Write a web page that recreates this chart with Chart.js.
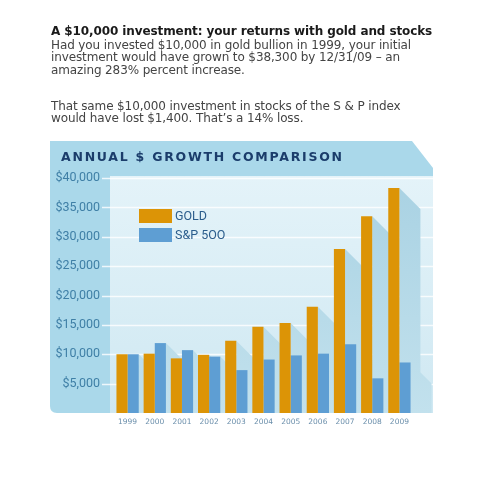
<!DOCTYPE html>
<html>
<head>
<meta charset="utf-8">
<script src="https://cdn.jsdelivr.net/npm/chart.js@4/dist/chart.umd.min.js"></script>
<style>
  html, body { margin: 0; padding: 0; background: #fff; }
  #wrap { position: relative; width: 480px; height: 480px; overflow: hidden; }
  #chart { position: absolute; left: 0; top: 0; }
  .txt { position: absolute; left: 51px; white-space: nowrap; font-family: "DejaVu Sans", sans-serif; }
  .lead { font-size: 12px; font-weight: bold; color: #1a1a1a; letter-spacing: -0.1px; line-height: 13px; }
  .body { font-size: 12px; color: #444; letter-spacing: -0.12px; line-height: 12.5px; }
  #ctitle { position: absolute; left: 61px; top: 149px; font-family: "DejaVu Sans", sans-serif; font-weight: bold;
            font-size: 12.5px; letter-spacing: 1.75px; color: #1b3d6b; white-space: nowrap; }
</style>
</head>
<body>
<div id="wrap">
  <canvas id="chart" width="480" height="480"></canvas>
  <div class="txt lead" style="top:25px">A $10,000 investment: your returns with gold and stocks</div>
  <div class="txt body" style="top:38.5px">Had you invested $10,000 in gold bullion in 1999, your initial<br>investment would have grown to $38,300 by 12/31/09 – an<br>amazing 283% percent increase.</div>
  <div class="txt body" style="top:99.5px">That same $10,000 investment in stocks of the S &amp; P index<br>would have lost $1,400. That’s a 14% loss.</div>
  <div id="ctitle">ANNUAL $ GROWTH COMPARISON</div>
</div>
<script>
const years = ["1999", "2000", "2001", "2002", "2003", "2004", "2005", "2006", "2007", "2008", "2009"];
const goldValues = [10000, 10100, 9300, 9900, 12300, 14700, 15300, 18100, 27900, 33500, 38300];
const spValues = [10000, 11900, 10700, 9600, 7300, 9100, 9800, 10100, 11700, 5900, 8600];
const seriesNames = ["GOLD", "S&P 5OO"];
const yTickValues = [5000, 10000, 15000, 20000, 25000, 30000, 35000, 40000];
const yTickLabels = ["$5,000", "$10,000", "$15,000", "$20,000", "$25,000", "$30,000", "$35,000", "$40,000"];

const narrow = "Roboto, 'Liberation Sans', sans-serif";

// panel behind the chart: dark band + lighter plot box + grid lines
const panelPlugin = {
  id: "panel",
  beforeDraw(chart) {
    const { ctx, chartArea: ca, scales } = chart;
    const panelL = ca.left - 64, panelT = ca.top - 37;
    const plotL = ca.left - 4, plotR = ca.right + 20, bandB = ca.top - 2, plotB = ca.bottom;
    ctx.save();
    ctx.beginPath();
    ctx.moveTo(panelL, panelT);
    ctx.lineTo(plotR - 21, panelT);
    ctx.lineTo(plotR, panelT + 27);
    ctx.lineTo(plotR, plotB);
    ctx.lineTo(panelL + 7, plotB);
    ctx.quadraticCurveTo(panelL, plotB, panelL, plotB - 7);
    ctx.closePath();
    ctx.fillStyle = "#aad8ea";
    ctx.fill();

    const g = ctx.createLinearGradient(0, bandB, 0, plotB);
    g.addColorStop(0, "#e4f3f9");
    g.addColorStop(1, "#cfe8f2");
    ctx.fillStyle = g;
    ctx.fillRect(plotL, bandB, plotR - plotL, plotB - bandB);

    ctx.strokeStyle = "rgba(255,255,255,0.8)";
    ctx.lineWidth = 1.5;
    yTickValues.forEach(v => {
      const y = Math.round(scales.y.getPixelForValue(v)) + 0.5;
      ctx.beginPath();
      ctx.moveTo(ca.left - 12, y);
      ctx.lineTo(plotR, y);
      ctx.stroke();
    });
    ctx.restore();
  },
  beforeDatasetsDraw(chart) {
    // diagonal drop shadows behind each bar
    const { ctx, chartArea: ca } = chart;
    const d = 21;
    ctx.save();
    ctx.beginPath();
    chart.data.datasets.forEach((ds, i) => {
      chart.getDatasetMeta(i).data.forEach(bar => {
        const { x, y, base, width } = bar.getProps(["x", "y", "base", "width"], true);
        const xr = x + width / 2;
        ctx.moveTo(xr, y);
        ctx.lineTo(xr + d, y + d);
        ctx.lineTo(xr + d, base);
        ctx.lineTo(xr, base);
        ctx.closePath();
      });
    });
    const g = ctx.createLinearGradient(0, ca.top, 0, ca.bottom);
    g.addColorStop(0, "#a9d2e3");
    g.addColorStop(1, "#c2e1ed");
    ctx.fillStyle = g;
    ctx.fill("nonzero");
    ctx.restore();
  },
  afterDatasetsDraw(chart) {
    // legend inside the plot, top-left
    const { ctx, chartArea: ca } = chart;
    ctx.save();
    chart.data.datasets.forEach((ds, i) => {
      const bx = ca.left + 25, by = ca.top + 31 + i * 19;
      ctx.fillStyle = ds.backgroundColor;
      ctx.fillRect(bx, by, 33, 14);
      ctx.fillStyle = "#2b5d8c";
      ctx.font = "12.5px " + narrow;
      ctx.textBaseline = "middle";
      ctx.fillText(ds.label, bx + 36, by + 7.5);
    });
    ctx.restore();
  }
};

new Chart(document.getElementById("chart"), {
  type: "bar",
  data: {
    labels: years,
    datasets: [
      { label: seriesNames[0], data: goldValues, backgroundColor: "#dc9406" },
      { label: seriesNames[1], data: spValues, backgroundColor: "#5e9ed3" }
    ]
  },
  options: {
    responsive: false,
    animation: false,
    layout: { padding: { left: 54, right: 67, top: 178, bottom: 47 } },
    datasets: { bar: { barPercentage: 1, categoryPercentage: 0.82, borderWidth: 0 } },
    plugins: { legend: { display: false }, tooltip: { enabled: false }, title: { display: false } },
    scales: {
      x: {
        grid: { display: false, drawTicks: false },
        border: { display: false },
        afterFit: (s) => { s.height = 20; },
        ticks: {
          color: "#6b8fab",
          font: { family: "'DejaVu Sans', sans-serif", size: 7.5 },
          padding: 5, maxRotation: 0, autoSkip: false
        }
      },
      y: {
        min: 0, max: 40000,
        afterBuildTicks: (s) => { s.ticks = [0, ...yTickValues].map(v => ({ value: v })); },
        afterFit: (s) => { s.width = 60; },
        grid: { display: false, drawTicks: false },
        border: { display: false },
        ticks: {
          color: "#3f7fa6",
          font: { family: narrow, size: 12.5 },
          padding: 14,
          callback: (v) => { const i = yTickValues.indexOf(v); return i < 0 ? "" : yTickLabels[i]; }
        }
      }
    }
  },
  plugins: [panelPlugin]
});
</script>
</body>
</html>
